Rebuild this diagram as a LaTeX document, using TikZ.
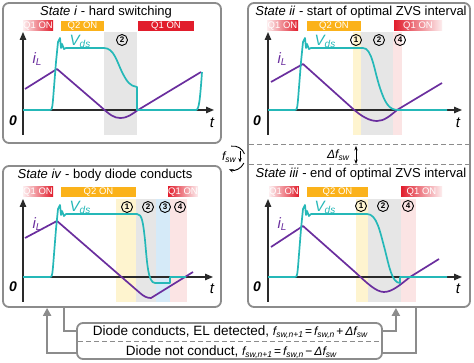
\documentclass[tikz,border=0pt]{standalone}
\usepackage{fontspec}
\setmainfont{Liberation Sans}
\usetikzlibrary{arrows.meta}
\definecolor{frame}{HTML}{8C8C8C}
\definecolor{qred}{HTML}{E11D2C}
\definecolor{qorange}{HTML}{FBB21A}
\definecolor{vdsc}{HTML}{25B8B8}
\definecolor{ilc}{HTML}{6A2E9E}
\definecolor{axc}{HTML}{2A2A2A}
\definecolor{shgray}{HTML}{E6E6E6}
\definecolor{shyel}{HTML}{FEF4CF}
\definecolor{shblue}{HTML}{D5EAF8}
\definecolor{shpink}{HTML}{FBE4E4}
\newcommand{\ff}[1]{{\fontsize{12}{13}\selectfont\itshape f}\raisebox{-1.5pt}{\fontsize{8.5}{9}\selectfont\itshape #1}}
\newcommand{\fm}[1]{{\fontsize{12}{13}\selectfont #1}}
\newcommand{\vdslab}{{\itshape V}\raisebox{-2pt}{\fontsize{10}{10}\selectfont\itshape ds}}
\newcommand{\illab}{{\itshape i}\raisebox{-2pt}{\fontsize{10}{10}\selectfont\itshape L}}
\tikzset{
 panel/.style={draw=frame, line width=1.8pt, rounded corners=6pt, inner sep=0pt},
 conn/.style={draw=frame, line width=2.2pt},
 arr/.style={conn, -{Triangle[length=8pt,width=8pt]}},
 axis/.style={line width=1.3pt, draw=axc, -{Triangle[length=8pt,width=6.5pt]}},
 vds/.style={draw=vdsc, line width=1.7pt, line join=round},
 il/.style={draw=ilc, line width=1.7pt, line join=round},
 title/.style={font=\fontsize{13}{15}\selectfont, inner sep=0pt},
 bar/.style={inner sep=0pt, minimum height=10pt, text=white, font=\fontsize{9.5}{10}\selectfont},
 q1/.style={bar, fill=qred},
 q2/.style={bar, fill=qorange},
 q1l/.style={bar, left color=qred!8, middle color=qred, right color=qred},
 q1r/.style={bar, left color=qred, middle color=qred, right color=qred!8},
 cnum/.style={circle, draw, line width=0.9pt, inner sep=0pt, minimum size=11pt, font=\bfseries\fontsize{8}{8}\selectfont},
 zero/.style={font=\fontsize{14}{14}\selectfont\bfseries\itshape, inner sep=0pt},
 tlab/.style={font=\fontsize{15}{15}\selectfont\itshape, inner sep=0pt},
 vlab/.style={text=vdsc, font=\fontsize{15}{15}\selectfont, inner sep=0pt},
 ilab/.style={text=ilc, font=\fontsize{15}{15}\selectfont, inner sep=0pt},
 rowtxt/.style={font=\fontsize{13.5}{15}\selectfont, inner sep=0pt},
}
\begin{document}
\begin{tikzpicture}[x=1pt,y=-1pt]
\useasboundingbox (0,0) rectangle (474,363);
\fill[white] (0,0) rectangle (474,363);

% ---------- frames ----------
\node[panel, minimum width=218pt, minimum height=140pt] (pi) at (112,73) {};
\node[panel, minimum width=218pt, minimum height=141pt] (piv) at (112,236.5) {};
\node[panel, minimum width=222pt, minimum height=304pt] (pr) at (359,155) {};
\draw[frame, line width=1pt, dash pattern=on 5pt off 3pt] (249,145) -- (469,145);
\draw[frame, line width=1pt, dash pattern=on 5pt off 3pt] (249,165) -- (469,165);

% ---------- titles ----------
\node[title] (ti) at (106,12) {\textit{State i} - hard switching};
\node[title] (tii) at (361,12) {\textit{State ii} - start of optimal ZVS interval};
\node[title] (tiii) at (361,174) {\textit{State iii} - end of optimal ZVS interval};
\node[title] (tiv) at (105,175) {\textit{State iv} - body diode conducts};

% ---------- shaded intervals ----------
\fill[shgray] (104,32) rectangle (137,135);
\fill[shyel] (353,32) rectangle (361,135);
\fill[shgray] (361,32) rectangle (393,135);
\fill[shpink] (393,32) rectangle (402,135);
\fill[shyel] (356,199) rectangle (368,302);
\fill[shgray] (368,199) rectangle (401,302);
\fill[shpink] (401,199) rectangle (416,302);
\fill[shyel] (116,199) rectangle (136,302);
\fill[shgray] (136,199) rectangle (156,302);
\fill[shblue] (156,199) rectangle (170,302);
\fill[shpink] (170,199) rectangle (187,302);

% ---------- switch bars ----------
\node[q1l, minimum width=30pt] (i-b1) at (38,26) {Q1 ON};
\node[q2, minimum width=43pt] (i-b2) at (82.5,26) {Q2 ON};
\node[q1, minimum width=56pt] (i-b3) at (166,26) {Q1 ON};
\node[q1l, minimum width=31pt] (ii-b1) at (282.5,26) {Q1 ON};
\node[q2, minimum width=54pt] (ii-b2) at (334,26) {Q2 ON};
\node[q1r, minimum width=48pt] (ii-b3) at (418,26) {Q1 ON};
\node[q1l, minimum width=28pt] (iii-b1) at (284,192) {Q1 ON};
\node[q2, minimum width=61pt] (iii-b2) at (337.5,192) {Q2 ON};
\node[q1r, minimum width=41pt] (iii-b3) at (421.5,192) {Q1 ON};
\node[q1l, minimum width=30pt] (iv-b1) at (38,192) {Q1 ON};
\node[q2, minimum width=75pt] (iv-b2) at (98.5,192) {Q2 ON};
\node[q1r, minimum width=28pt] (iv-b3) at (183,192) {Q1 ON};

% ---------- circled numbers ----------
\node[cnum] (i-n2) at (122,40) {2};
\node[cnum] (ii-n1) at (356,40) {1};
\node[cnum] (ii-n2) at (379,40) {2};
\node[cnum] (ii-n4) at (400,40) {4};
\node[cnum] (iii-n1) at (361,206) {1};
\node[cnum] (iii-n2) at (383,206) {2};
\node[cnum] (iii-n4) at (408,206) {4};
\node[cnum] (iv-n1) at (127,207) {1};
\node[cnum] (iv-n2) at (148,207) {2};
\node[cnum] (iv-n3) at (165,207) {3};
\node[cnum] (iv-n4) at (180,207) {4};

% ---------- axes ----------
\draw[axis] (23,135) -- (23,32);
\draw[axis] (23,110) -- (214,110);
\draw[axis] (268,135) -- (268,32);
\draw[axis] (268,110) -- (462,110);
\draw[axis] (268,302) -- (268,199);
\draw[axis] (268,277) -- (462,277);
\draw[axis] (23,302) -- (23,199);
\draw[axis] (23,277) -- (213,277);
\node[zero] (i-0) at (13,121) {0};
\node[zero] (ii-0) at (257,121) {0};
\node[zero] (iii-0) at (257,287) {0};
\node[zero] (iv-0) at (13,287) {0};
\node[tlab] (i-t) at (212,123) {t};
\node[tlab] (ii-t) at (458,123) {t};
\node[tlab] (iii-t) at (458,289) {t};
\node[tlab] (iv-t) at (212,289) {t};

% ---------- state i ----------
\draw[il] (25,89) -- (57,69) -- (100,106) .. controls (110,115) and (114,118) .. (120,118) .. controls (128,118) and (132,114) .. (138,110) -- (201,72);
\draw[vds] (23,110) -- (49,110) .. controls (52,110) .. (53,100) -- (56,62) -- (58,42) -- (60,38) -- (61,48) -- (62,44) -- (64,49) -- (66,48) -- (104,48) .. controls (114,48) and (117,62) .. (122,72) .. controls (127,82) and (130,86) .. (137,87) -- (137,110) -- (196,110) .. controls (199,110) and (200,100) .. (202,72);
\node[vlab] (i-v) at (80,41) {\vdslab};
\node[ilab] (i-i) at (37,59) {\illab};

% ---------- state ii ----------
\draw[il] (271,82) -- (303,64) -- (352,108) .. controls (362,117) and (370,121) .. (377,121) .. controls (384,121) and (390,116) .. (397,110) -- (442,83);
\draw[vds] (268,110) -- (294,110) .. controls (297,110) .. (298,100) -- (301,62) -- (303,42) -- (305,38) -- (306,48) -- (307,44) -- (309,49) -- (311,48) -- (363,48) .. controls (372,48) and (374,70) .. (380,88) .. controls (385,103) and (389,110) .. (398,110) -- (447,110);
\node[vlab] (ii-v) at (325,41) {\vdslab};
\node[ilab] (ii-i) at (282,59) {\illab};

% ---------- state iii ----------
\draw[il] (271,247) -- (303,226) -- (355,272) .. controls (367,283) and (376,292) .. (384,292) .. controls (392,292) and (400,285) .. (410,277) -- (439,259);
\draw[vds] (268,277) -- (294,277) .. controls (297,277) .. (298,267) -- (301,229) -- (303,209) -- (305,205) -- (306,215) -- (307,211) -- (309,216) -- (311,214) -- (367,214) .. controls (377,214) and (380,232) .. (385,250) .. controls (389,266) and (392,283) .. (400,283) -- (400,277) -- (447,277);
\node[vlab] (iii-v) at (325,207) {\vdslab};
\node[ilab] (iii-i) at (282,224) {\illab};

% ---------- state iv ----------
\draw[il] (25,238) -- (57,221) -- (140,293) .. controls (144,296.5) and (147,298) .. (151,298) -- (193,272);
\draw[vds] (23,277) -- (49,277) .. controls (52,277) .. (53,267) -- (56,229) -- (58,209) -- (60,205) -- (61,215) -- (62,211) -- (64,216) -- (66,214) -- (137,214) .. controls (142,214) and (143,222) .. (145,240) .. controls (147,262) and (148,283) .. (155,283) -- (170,283) -- (170,277) -- (186,277);
\node[vlab] (iv-v) at (80,207) {\vdslab};
\node[ilab] (iv-i) at (37,224) {\illab};

% ---------- frequency step marks ----------
\node[inner sep=0pt] (dfs) at (338,155) {\fm{\itshape Δ}\ff{sw}};
\draw[line width=0.9pt, {Stealth[length=4.5pt]}-{Stealth[length=4.5pt]}] (356,146) -- (356,164);
\node[inner sep=0pt] (fsw) at (229,157) {\ff{sw}};
\draw[line width=0.9pt, -{Stealth[length=4.5pt]}] (240,151) -- (240,162.5);
\draw[line width=0.9pt] (231.1,146.2) arc[start angle=100, end angle=20, radius=12pt];
\draw[line width=0.9pt, -{Stealth[length=4.5pt]}] (243.9,163.1) arc[start angle=-25, end angle=-110, radius=12pt];

% ---------- rule box ----------
\node[panel, minimum width=305pt, minimum height=36pt, fill=white] (rule) at (229.5,341) {};
\draw[frame, line width=1pt, dash pattern=on 5pt off 3pt] (78,342) -- (381,342);
\node[rowtxt] (r1) at (230,332) {Diode conducts, EL detected, \ff{sw,n+1}\fm{\,=\,}\ff{sw,n}\fm{\,+\,}\fm{\itshape Δ}\ff{sw}};
\node[rowtxt] (r2) at (231,352) {Diode not conduct, \ff{sw,n+1}\fm{\,=\,}\ff{sw,n}\fm{\,−\,}\fm{\itshape Δ}\ff{sw}};

% ---------- connectors ----------
\draw[conn] ([xshift=62pt]piv.south west) |- ([yshift=-9pt]rule.north west);
\draw[arr] ([yshift=7pt]rule.south west) -| ([xshift=45pt]piv.south west);
\draw[arr] ([yshift=-9pt]rule.north east) -| ([xshift=-75pt]pr.south east);
\draw[conn] ([xshift=-55pt]pr.south east) |- ([yshift=7pt]rule.south east);
\end{tikzpicture}
\end{document}
